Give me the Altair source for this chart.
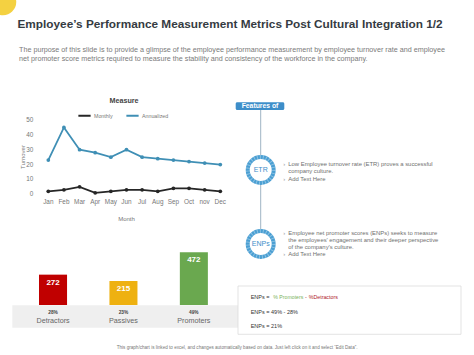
import altair as alt
import pandas as pd

FONT = "Liberation Sans"

# ---------------- data ----------------
months = ["Jan", "Feb", "Mar", "Apr", "May", "Jun", "Jul", "Aug", "Sep", "Oct", "nov", "Dec"]
monthly = [2, 3, 5, 1, 2, 3, 3, 2, 4, 4, 3, 2]
annualized = [23, 45, 30, 28, 25, 30, 25, 24, 23, 22, 21, 20]
y_ticks = [0, 10, 20, 30, 40, 50]
series = ["Monthly", "Annualized"]
series_colors = ["#262626", "#3f8fb5"]

categories = ["Detractors", "Passives", "Promoters"]
counts = [272, 215, 472]
percents = ["28%", "23%", "49%"]
bar_colors = ["#c00000", "#eeb111", "#6aa84f"]

title_text = "Employee\u2019s Performance Measurement Metrics Post Cultural Integration 1/2"
subtitle_lines = [
    "The purpose of this slide is to provide  a glimpse of the employee performance measurement by employee turnover rate and employee",
    "net promoter score metrics required to measure the stability and consistency of the workforce in the company.",
]
etr_lines = ["Low Employee turnover rate (ETR) proves a successful", "company culture."]
enps_lines = ["Employee net promoter scores (ENPs) seeks to measure",
              "the employees\u2019 engagement and their deeper perspective",
              "of the company\u2019s culture."]
footer_text = "This graph/chart is linked to excel, and changes automatically based on data. Just left click on it and select \u201cEdit Data\u201d."

# ---------------- helpers ----------------
def txt(text, x, y, size, color="#666666", weight="normal", align="left", angle=0):
    return alt.Chart(pd.DataFrame({"t": [text]})).mark_text(
        font=FONT, fontSize=size, color=color, fontWeight=weight, align=align,
        baseline="middle", angle=angle
    ).encode(x=alt.value(x), y=alt.value(y), text="t:N")

def box(x, x2, y, y2, fill, stroke=None, radius=0):
    kw = dict(fill=fill, cornerRadius=radius)
    if stroke:
        kw.update(stroke=stroke, strokeWidth=0.8)
    return alt.Chart(pd.DataFrame({"a": [0]})).mark_rect(**kw).encode(
        x=alt.value(x), x2=alt.value(x2), y=alt.value(y), y2=alt.value(y2))

def ring(x, y, size, color, width, dash=None, opacity=1.0, fill=None):
    kw = dict(shape="circle", stroke=color, strokeWidth=width, opacity=opacity, size=size, filled=False)
    if dash:
        kw["strokeDash"] = dash
    if fill:
        kw["fill"] = fill
        kw["fillOpacity"] = 1
    return alt.Chart(pd.DataFrame({"a": [0]})).mark_point(**kw).encode(
        x=alt.value(x), y=alt.value(y))

layers = []

# decoration top-left
layers.append(alt.Chart(pd.DataFrame({"a": [0]})).mark_point(
    shape="circle", filled=True, color="#f3cc2c", size=700, opacity=0.9
).encode(x=alt.value(3), y=alt.value(2)))

# titles
layers.append(txt(title_text, 17.5, 24, 11.8, "#353b42", "bold"))
layers.append(txt(subtitle_lines[0], 19, 50, 7.2, "#7a7a7a"))
layers.append(txt(subtitle_lines[1], 19, 58.8, 7.2, "#7a7a7a"))

# ---------------- line chart ----------------
x_month = alt.Scale(domain=months, range=[48.3, 220.3], padding=0)
y_turn = alt.Scale(domain=[0, 50], range=[194.3, 120], nice=False, zero=True)

line_df = pd.DataFrame({
    "month": months * 2,
    "series": ["Monthly"] * len(months) + ["Annualized"] * len(months),
    "value": monthly + annualized,
})
layers.append(alt.Chart(line_df).mark_line(
    strokeWidth=1.8,
    point=alt.OverlayMarkDef(filled=True, size=14)
).encode(
    x=alt.X("month:O", scale=x_month, axis=None, sort=months),
    y=alt.Y("value:Q", scale=y_turn, axis=None),
    color=alt.Color("series:N", scale=alt.Scale(domain=series, range=series_colors),
                    legend=alt.Legend(orient="none", legendX=77, legendY=108, direction="horizontal",
                                      title=None, symbolType="stroke", symbolStrokeWidth=2,
                                      symbolSize=150, labelFontSize=5.3, labelColor="#777777",
                                      labelFont=FONT, columnPadding=9, labelOffset=2)),
    detail="series:N",
))

layers.append(alt.Chart(pd.DataFrame({"m": months})).mark_text(
    font=FONT, fontSize=6.4, color="#777777", baseline="middle"
).encode(x=alt.X("m:O", scale=x_month, axis=None, sort=months), y=alt.value(201.7), text="m:N"))

layers.append(alt.Chart(pd.DataFrame({"v": y_ticks})).mark_text(
    font=FONT, fontSize=6.4, color="#777777", baseline="middle", align="right"
).encode(y=alt.Y("v:Q", scale=y_turn, axis=None), x=alt.value(33.3), text="v:Q"))

layers.append(txt("Measure", 124, 101, 7.2, "#444444", "bold", "center"))
layers.append(txt("Turnover", 22.5, 157, 6, "#777777", "normal", "center", 270))
layers.append(txt("Month", 126.5, 218.5, 6, "#777777", "normal", "center"))

# ---------------- bar chart ----------------
layers.append(box(12.3, 238, 305.3, 327.7, "#efefef"))

x_cat = alt.Scale(domain=categories, range=[17.9, 229], paddingInner=0.602, paddingOuter=0.3)
y_cnt = alt.Scale(domain=[0, 500], range=[305, 249.2], nice=False, zero=True)
bar_df = pd.DataFrame({"cat": categories, "count": counts, "pct": percents})

layers.append(alt.Chart(bar_df).mark_bar().encode(
    x=alt.X("cat:N", scale=x_cat, axis=None, sort=categories),
    y=alt.Y("count:Q", scale=y_cnt, axis=None),
    color=alt.Color("cat:N", scale=alt.Scale(domain=categories, range=bar_colors), legend=None),
))
layers.append(alt.Chart(bar_df).mark_text(
    font=FONT, fontSize=8, fontWeight="bold", color="white", baseline="middle", dy=8
).encode(
    x=alt.X("cat:N", scale=x_cat, axis=None, sort=categories),
    y=alt.Y("count:Q", scale=y_cnt, axis=None),
    text="count:Q",
))
layers.append(alt.Chart(bar_df).mark_text(
    font=FONT, fontSize=4.8, fontWeight="bold", color="#444444", baseline="middle"
).encode(x=alt.X("cat:N", scale=x_cat, axis=None, sort=categories), y=alt.value(313.3), text="pct:N"))
layers.append(alt.Chart(bar_df).mark_text(
    font=FONT, fontSize=7.2, color="#666666", baseline="middle"
).encode(x=alt.X("cat:N", scale=x_cat, axis=None, sort=categories), y=alt.value(321.3), text="cat:N"))

# ---------------- features panel ----------------
layers.append(alt.Chart(pd.DataFrame({"a": [0]})).mark_rule(color="#9fb4c4", strokeWidth=1).encode(
    x=alt.value(260.7), y=alt.value(110), y2=alt.value(244)))
layers.append(box(235.7, 284.3, 102.3, 110, "#3d8ec9", radius=1.5))
layers.append(txt("Features of", 260, 106.3, 6.8, "white", "bold", "center"))

for cy, label in [(170, "ETR"), (244, "ENPs")]:
    layers.append(ring(260.7, cy, 676, "#4a9fd3", 4, fill="white"))
    layers.append(ring(260.7, cy, 676, "white", 4, dash=[1, 2], opacity=0.35))
    layers.append(txt(label, 260.7, cy, 7, "#3d8ec9", "normal", "center"))

for i, line in enumerate(etr_lines):
    layers.append(txt(line, 288.3, 164 + 7 * i, 5.9, "#707070"))
layers.append(txt("Add Text Here", 288.3, 178.7, 5.9, "#707070"))
for yy in [164, 178.7]:
    layers.append(txt("\u203a", 283.3, yy, 6, "#999999"))

for i, line in enumerate(enps_lines):
    layers.append(txt(line, 288.3, 233.3 + 6.8 * i, 5.9, "#707070"))
layers.append(txt("Add Text Here", 288.3, 254.3, 5.9, "#707070"))
for yy in [233.3, 254.3]:
    layers.append(txt("\u203a", 283.3, yy, 6, "#999999"))

# ---------------- ENPs formula box ----------------
layers.append(box(238, 461, 286, 334.3, "white", stroke="#dcdcdc"))
layers.append(txt("ENPs  =", 250.7, 296.7, 5.5, "#333333"))
layers.append(txt("% Promoters", 273.3, 296.7, 5.2, "#7cb35b"))
layers.append(txt("-", 305, 296.7, 5.5, "#b0202a"))
layers.append(txt("%Detractors", 308.7, 296.7, 5.3, "#b0202a"))
layers.append(txt("ENPs  = 49% - 28%", 250.7, 311.7, 5.5, "#333333"))
layers.append(txt("ENPs  = 21%", 250.7, 326, 5.5, "#333333"))

# footer
layers.append(txt(footer_text, 116.7, 348.3, 4.6, "#777777"))

chart = alt.layer(*layers).resolve_scale(
    x="independent", y="independent", color="independent"
).properties(
    width=474, height=355, autosize="none", padding=0, background="white"
).configure_view(stroke=None)

chart.save("out.html", embed_options={"renderer": "svg", "actions": False})
